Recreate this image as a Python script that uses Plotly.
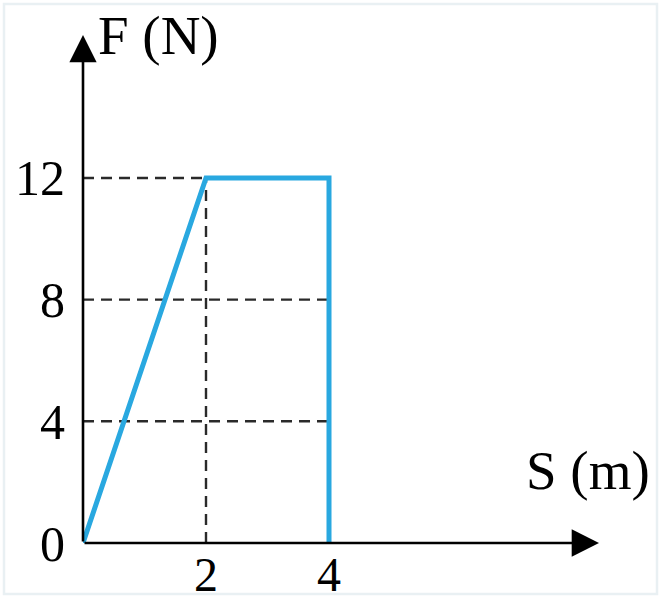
import plotly.graph_objects as go

# Data
S_values = [0, 2, 4, 4]          # displacement (m)
F_values = [0, 12, 12, 0]        # force (N)
y_tick_vals = [0, 4, 8, 12]
y_tick_text = ["0", "4", "8", "12"]
x_tick_vals = [2, 4]
x_tick_text = ["2", "4"]
# dashed guide lines: horizontal guides (y level, x end), vertical guides (x, y top)
h_guides = [(4, 4), (8, 4), (12, 2)]
v_guides = [(2, 12), (4, 12)]

W, H = 666, 601
ML, MB = 83, 58
PW, PH = W - ML, H - MB
px_per_x = 61.5
px_per_y = 30.42
x_max = PW / px_per_x
y_max = PH / px_per_y

FONT = "Liberation Serif, Times New Roman, serif"
DASH_COLOR = "#2a2a2a"
BLUE = "#29a8e0"

fig = go.Figure()

for yv, xe in h_guides:
    fig.add_trace(go.Scatter(x=[0, xe], y=[yv, yv], mode="lines",
                             line=dict(color=DASH_COLOR, width=2.4, dash="11px,7px"),
                             hoverinfo="skip", showlegend=False))
for xv, yt in v_guides:
    fig.add_trace(go.Scatter(x=[xv, xv], y=[0, yt], mode="lines",
                             line=dict(color=DASH_COLOR, width=2.4, dash="11px,7px"),
                             hoverinfo="skip", showlegend=False))

fig.add_trace(go.Scatter(x=S_values, y=F_values, mode="lines",
                         line=dict(color=BLUE, width=5),
                         showlegend=False))

# axis arrows
x_tip = (599 - ML) / px_per_x
y_tip = (PH - 35) / px_per_y
for (xt, yt) in [(x_tip, 0), (0, y_tip)]:
    fig.add_annotation(x=xt, y=yt, ax=0, ay=0, xref="x", yref="y", axref="x", ayref="y",
                       text="", showarrow=True, arrowhead=2, arrowsize=2.1, arrowwidth=2.6,
                       arrowcolor="#000000", standoff=0, startstandoff=0)

# axis titles
fig.add_annotation(x=(96 - ML) / px_per_x, y=(PH - 35) / px_per_y, xref="x", yref="y",
                   text="F (N)", showarrow=False, xanchor="left", yanchor="middle",
                   font=dict(family=FONT, size=55, color="#000000"))
fig.add_annotation(x=(588 - ML) / px_per_x, y=(PH - 470) / px_per_y, xref="x", yref="y",
                   text="S (m)", showarrow=False, xanchor="center", yanchor="middle",
                   font=dict(family=FONT, size=55, color="#000000"))

# faint frame around the whole picture
fig.add_shape(type="rect", xref="paper", yref="paper",
              x0=(4 - ML) / PW, x1=(657 - ML) / PW,
              y0=(PH - 594) / PH, y1=(PH - 4) / PH,
              line=dict(color="#e9f0f3", width=2.5), layer="below")

fig.update_layout(
    width=W, height=H,
    margin=dict(l=ML, r=0, t=0, b=MB, pad=0, autoexpand=False),
    paper_bgcolor="white", plot_bgcolor="white",
    xaxis=dict(range=[0, x_max], tickvals=x_tick_vals, ticktext=x_tick_text,
               showgrid=False, zeroline=False, showline=False, automargin=False,
               ticks="outside", ticklen=1, tickcolor="rgba(0,0,0,0)",
               ticklabelstandoff=-12,
               tickfont=dict(family=FONT, size=48, color="#000000"), fixedrange=True),
    yaxis=dict(range=[0, y_max], tickvals=y_tick_vals, ticktext=y_tick_text,
               showgrid=False, zeroline=False, showline=False, automargin=False,
               ticks="outside", ticklen=7, tickcolor="rgba(0,0,0,0)",
               tickfont=dict(family=FONT, size=50, color="#000000"), fixedrange=True),
)

fig.write_html("out.html", config={"displayModeBar": False},
               post_script="document.body.style.margin='0px';document.body.style.overflow='hidden';")
